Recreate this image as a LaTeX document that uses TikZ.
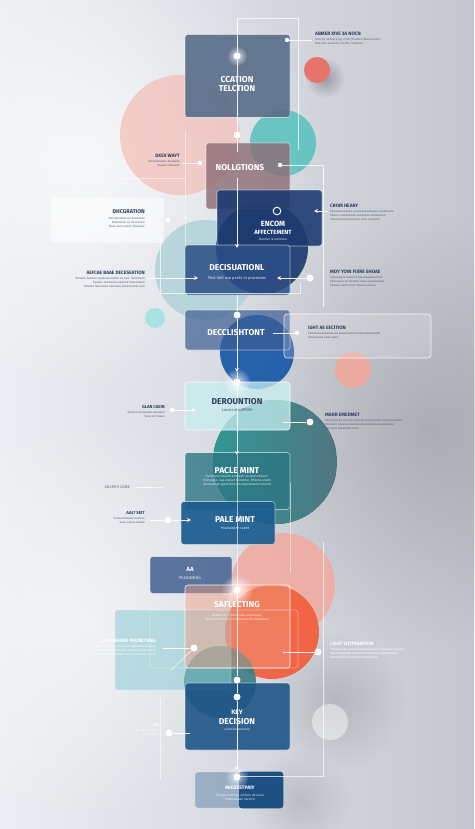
\documentclass[tikz,border=0pt]{standalone}
\usepackage{fontspec}
\setmainfont{Fira Sans}
\usetikzlibrary{arrows.meta,fadings}
\definecolor{bgL}{HTML}{EAEEF2}
\definecolor{bgR}{HTML}{C4C7CF}
\definecolor{slate}{HTML}{5B6F8A}
\definecolor{mauve}{HTML}{8C6C74}
\definecolor{navy}{HTML}{1D3A70}
\definecolor{navyB}{HTML}{2B4E86}
\definecolor{steel}{HTML}{3C5D94}
\definecolor{pinkc}{HTML}{F4BDB5}
\definecolor{tealc}{HTML}{5CC3BF}
\definecolor{coral}{HTML}{E8736B}
\definecolor{lteal}{HTML}{A9CFD6}
\definecolor{bluec}{HTML}{1E5BA8}
\definecolor{mint}{HTML}{A8E3E3}
\definecolor{salmon}{HTML}{F0A89C}
\definecolor{tealm}{HTML}{34A3A0}
\definecolor{tealdk}{HTML}{567F8C}
\definecolor{pinkl}{HTML}{F2A99F}
\definecolor{orangec}{HTML}{F2603F}
\definecolor{tealk}{HTML}{3F7E86}
\definecolor{mintbox}{HTML}{C8EFF0}
\definecolor{tealbox}{HTML}{2C7683}
\definecolor{bluebox}{HTML}{1B5C8F}
\definecolor{slatebox}{HTML}{4C6896}
\definecolor{tealback}{HTML}{8CCCD3}
\definecolor{salbox}{HTML}{F39C80}
\definecolor{keybox}{HTML}{1F5587}
\definecolor{greyblue}{HTML}{8FA7BE}
\definecolor{navyC}{HTML}{1D4F82}
\definecolor{ink}{HTML}{2F3F5E}
\definecolor{inkS}{HTML}{5A6680}
\tikzfading[name=glowfade, inner color=transparent!0, outer color=transparent!100]
\tikzset{
 box/.style={rectangle, rounded corners=3pt, draw=white, draw opacity=0.55, line width=0.6pt, inner sep=0},
 ttl/.style={text=white, font=\bfseries\fontsize{8.5}{9}\selectfont, inner sep=0},
 sub/.style={text=white, text opacity=0.85, font=\fontsize{3.2}{4}\selectfont, inner sep=0, align=center},
 hd/.style={text=ink, font=\bfseries\fontsize{4.8}{5.5}\selectfont, inner sep=0},
 sm/.style={text=inkS, font=\fontsize{3.1}{4}\selectfont, inner sep=0},
 dot/.style={circle, fill=white, inner sep=0, minimum size=7pt},
 sdot/.style={circle, fill=white, inner sep=0, minimum size=4.5pt},
 conn/.style={draw=white, line width=0.7pt, draw opacity=0.9},
 arr/.style={conn, -{Stealth[length=4pt,width=4pt]}},
 glow/.style={fill=white, path fading=glowfade},
}
\begin{document}
\begin{tikzpicture}[x=1pt,y=-1pt]
\useasboundingbox (0,0) rectangle (474,829);
% background
\fill[left color=bgL, right color=bgR] (0,0) rectangle (474,829);
\fill[glow, opacity=0.7] (90,160) circle (230);
\fill[glow, opacity=0.5] (80,620) circle (200);
\fill[black!40!bgR, path fading=glowfade, opacity=0.35] (430,430) circle (220);
% soft shadows
\fill[black!50!bgR, path fading=glowfade, opacity=0.5] (325,78) circle (20);
\fill[black!40!bgR, path fading=glowfade, opacity=0.3] (335,700) circle (70);
\fill[black!40!bgR, path fading=glowfade, opacity=0.25] (300,800) circle (50);
% big circles
\fill[pinkc, opacity=0.7] (180,135) circle (60);
\fill[tealc, opacity=0.9] (283,143) circle (33);
\fill[coral] (317,70) circle (13);
\fill[lteal, opacity=0.75] (205,270) circle (50);
\fill[navy, opacity=0.92] (262,248) circle (46);
\fill[bluec, opacity=0.95] (257,352) circle (37);
\fill[mint] (155,318) circle (10);
\fill[salmon, opacity=0.9] (353,370) circle (18);
\begin{scope}
 \clip (275,462) circle (62);
 \fill[left color=tealm, right color=tealdk, opacity=0.92] (213,400) rectangle (337,524);
\end{scope}
\fill[pinkl, opacity=0.85] (283,585) circle (52);
\fill[orangec, opacity=0.95] (272,632) circle (47);
\fill[tealk, opacity=0.92] (220,682) circle (36);
\fill[white, opacity=0.45] (330,722) circle (18);
% translucent back panels
\node[box, fill=tealback, fill opacity=0.55, draw opacity=0.3, minimum width=116pt, minimum height=80pt] (tb) at (173,650) {};
\node[box, fill=white, fill opacity=0.55, draw opacity=0.9, minimum width=111pt, minimum height=44pt] (dh) at (107.5,220) {};
% main boxes
\node[box, fill=slate, fill opacity=0.92, minimum width=105pt, minimum height=83pt] (b1) at (237.5,76) {};
\node[box, fill=mauve, fill opacity=0.8, minimum width=84pt, minimum height=66pt] (b2) at (248,176) {};
\node[box, fill=navy, fill opacity=0.9, minimum width=105pt, minimum height=56pt] (b3) at (269.5,218) {};
\node[box, fill=navyB, fill opacity=0.85, minimum width=105pt, minimum height=50pt] (b4) at (237.5,270) {};
\node[box, fill=steel, fill opacity=0.7, minimum width=105pt, minimum height=40pt] (b5) at (237.5,330) {};
\node[box, fill=white, fill opacity=0.18, draw opacity=0.85, minimum width=147pt, minimum height=44pt] (b6) at (357.5,336) {};
\node[box, fill=mintbox, fill opacity=0.75, draw opacity=0.9, minimum width=105pt, minimum height=48pt] (b7) at (237.5,406) {};
\node[box, fill=tealbox, fill opacity=0.8, minimum width=105pt, minimum height=57pt] (b8) at (237.5,481) {};
\node[box, fill=bluebox, fill opacity=0.92, minimum width=94pt, minimum height=43pt] (b9) at (228,523) {};
\node[box, fill=slatebox, fill opacity=0.9, minimum width=82pt, minimum height=37pt] (b10) at (191,575) {};
\node[box, fill=salbox, fill opacity=0.45, draw opacity=0.9, minimum width=105pt, minimum height=83pt] (b11) at (237.5,626.5) {};
\node[box, fill=none, draw opacity=0.4, minimum width=148pt, minimum height=58pt] (ob) at (224,639) {};
\node[box, fill=keybox, fill opacity=0.9, minimum width=105pt, minimum height=67pt] (b12) at (237.5,716.5) {};
\node[box, fill=greyblue, fill opacity=0.85, draw opacity=0.3, minimum width=88pt, minimum height=36pt] (b13) at (239,790) {};
\fill[navyC, rounded corners=3pt] (b13.north) rectangle (b13.south east);
% frame lines
\coordinate (top) at (237,18);
\coordinate (topR) at (298,18);
\coordinate (topRb) at (298,150);
\draw[conn, draw opacity=0.7] (top) -- (topR) -- (topRb);
\coordinate (n2r) at (323,165);
\coordinate (n2rb) at (323,307);
\coordinate (l1a) at (113,178);
\coordinate (l1b) at (185,178);
\draw[conn, draw opacity=0.5] (l1a) -- (l1b);
\coordinate (v1a) at (185,130);
\coordinate (v1b) at (185,245);
\draw[conn, draw opacity=0.5] (v1a) -- (v1b);
\coordinate (fa) at (160,240);
\coordinate (fb) at (160,293);
\coordinate (fc) at (300,293);
\coordinate (fd) at (300,283);
\draw[conn, draw opacity=0.7] (fa) -- (fb) -- (fc) -- (fd);
\coordinate (r2a) at (290,483);
\coordinate (r2b) at (290,573);
\draw[conn, draw opacity=0.5] (r2a) -- (r2b);
\coordinate (r3a) at (323,542);
\coordinate (r3b) at (323,776);
\coordinate (r3c) at (240,776);
\draw[conn, draw opacity=0.7] (r3a) -- (r3b) -- (r3c);
\coordinate (l3a) at (160,698);
\coordinate (l3b) at (160,780);
\draw[conn, draw opacity=0.6] (l3a) -- (l3b);
% spine dots
\node[dot] (d1) at (237,56) {};
\node[dot] (d2) at (237,135) {};
\node[dot] (d5) at (237,315) {};
\node[dot] (d6) at (237,382) {};
\node[dot] (d7) at (237,590) {};
\node[dot] (d8) at (237,680) {};
\node[dot] (d9) at (237,697) {};
\node[dot] (d10) at (237,777) {};
\fill[glow, opacity=0.8] (d1) circle (10);
\fill[glow, opacity=0.8] (d6) circle (14);
\fill[glow, opacity=0.9] (d7) circle (16);
\fill[glow, opacity=0.7] (d10) circle (12);
% spine
\draw[conn] (top) -- (d1);
\draw[conn] (d1) -- (d2);
\coordinate (s3) at (237,178);
\coordinate (s4) at (237,248);
\draw[conn] (d2) -- (237,152);
\draw[arr] (s3) -- (s4);
\coordinate (s5) at (237,295);
\draw[conn] (s5) -- (d5);
\coordinate (s6) at (237,372);
\draw[arr] (d5) -- (s6);
\draw[conn] (s6) -- (d6);
\coordinate (s7) at (237,455);
\draw[arr] (d6) -- (s7);
\coordinate (s8) at (237,545);
\draw[conn] (s7) -- (s8) -- (d7);
\draw[conn] (d7) -- (d8);
\draw[conn] (d8) -- (d9);
\coordinate (s9) at (237,770);
\draw[arr] (d9) -- (s9);
% side connectors
\coordinate (c1a) at (287,40);
\coordinate (c1b) at (312,40);
\draw[conn] (c1b) -- (c1a);
\node[sdot] (c1d) at (c1a) {};
\node[sdot] (d2r) at (280,165) {};
\draw[conn, draw opacity=0.8] (d2r) -- (n2r) -- (n2rb);
\coordinate (c2a) at (182,163);
\node[sdot] (c2d) at (200,163) {};
\draw[conn] (c2a) -- (c2d);
\coordinate (c3a) at (328,211);
\coordinate (c3b) at (314,211);
\draw[arr] (c3a) -- (c3b);
\node[sdot] (c4d) at (168,220) {};
\coordinate (c5a) at (147,278);
\coordinate (c5b) at (198,278);
\draw[arr] (c5a) -- (c5b);
\node[dot] (c6d) at (310,278) {};
\coordinate (c6b) at (277,278);
\draw[arr] (c6d) -- (c6b);
\coordinate (c7a) at (273,333);
\node[sdot] (c7d) at (297,333) {};
\draw[conn] (c7a) -- (c7d);
\node[sdot] (c8d) at (172,410) {};
\coordinate (c8b) at (196,410);
\draw[arr] (c8d) -- (c8b);
\coordinate (c9a) at (283,422);
\node[dot] (c9d) at (310,422) {};
\draw[conn] (c9a) -- (c9d);
\coordinate (c10a) at (135,487);
\coordinate (c10b) at (163,487);
\draw[conn, draw opacity=0.7] (c10a) -- (c10b);
\coordinate (c11a) at (150,520);
\node[dot] (c11d) at (168,520) {};
\coordinate (c11b) at (191,520);
\draw[conn] (c11a) -- (c11d);
\draw[arr] (c11d) -- (c11b);
\coordinate (c12a) at (163,648);
\node[dot] (c12d) at (194,648) {};
\coordinate (c12c) at (170,671);
\draw[conn] (c12a) -- (c12d);
\draw[conn, draw opacity=0.7] (c12d) -- (c12c);
\coordinate (c13a) at (283,652);
\node[dot] (c13d) at (318,652) {};
\draw[conn] (c13a) -- (c13d);
\node[dot] (c14d) at (169,733) {};
\coordinate (c14b) at (190,733);
\draw[conn] (c14d) -- (c14b);
% box titles
\node[ttl] (t1a) at (237,80) {CCATION};
\node[ttl] (t1b) at (237,89) {TELCTION};
\node[ttl] (t2) at (240,168) {NOLLGTIONS};
\draw[white, line width=0.9pt] (277,211) circle (3.8);
\node[ttl, font=\bfseries\fontsize{7.5}{8}\selectfont] (t3a) at (273,224) {ENCOM};
\node[ttl, font=\bfseries\fontsize{6}{7}\selectfont] (t3b) at (273,232) {AFFECTEMENT};
\node[sub] (t3c) at (273,239) {Beceiet ie werbeiw};
\node[ttl] (t4) at (237,268) {DECISUATIONL};
\node[sub, font=\fontsize{4}{5}\selectfont] (t4s) at (237,278) {Pest Setl use perils in processes};
\node[ttl] (t5) at (236,333) {DECCLISHTONT};
\node[ttl, text=ink] (t7) at (237,402) {DEROUNTION};
\node[sub, text=ink, font=\fontsize{4}{5}\selectfont] (t7s) at (237,410) {Lacror xhoiPRIIN};
\node[ttl] (t8) at (237,471) {PACLE MINT};
\node[sub] (t8s) at (237,481) {Fwhesmn sroacto tarmestr arcienhsnieoen\\Poinsegro. sae enovet toinstreo. Phkeos sowtn\\dicaresroae spasmeite sro enprseoeveconsiens};
\node[ttl] (t9) at (235,520) {PALE MINT};
\node[sub, font=\fontsize{3.6}{4.5}\selectfont] (t9s) at (235,528) {Pouiseoent caeet};
\node[ttl, font=\bfseries\fontsize{6}{7}\selectfont] (t10a) at (190,569) {AA};
\node[sub, font=\fontsize{4}{5}\selectfont] (t10b) at (190,578) {PKEDNMING};
\node[ttl] (t11) at (237,605) {SAFLECTING};
\node[sub] (t11s) at (237,617) {Bebsecfer ir sosotvnay ar eneiope\\Ssinebiateen ovn coherstovnlnfe oheoleeoe};
\node[ttl, font=\bfseries\fontsize{6.5}{7}\selectfont] (t12a) at (237,712) {KEY};
\node[ttl] (t12b) at (237,722) {DECISION};
\node[sub] (t12c) at (237,729) {a/ahoSeseeonsee};
\node[ttl, font=\bfseries\fontsize{5}{6}\selectfont] (t13a) at (240,788) {MIEDESTPAIY};
\node[sub] (t13b) at (240,797) {Teaqurt setlrsee oicfene alrscuee\\Pestoieeswe Sectsrd};
% side labels
\node[hd, anchor=west] (h1) at (315,34) {ABMER XIVE 3A NOCN};
\node[sm, anchor=north west, align=left] (s1) at (315,38) {Sanchy emtral yrigr stner thadsen fuoul eamnt\\Reecnus saaanas rnodoe it aitana};
\node[hd, anchor=east] (h2) at (180,156) {DXEX WAYT};
\node[sm, anchor=north east, align=right] (s2) at (180,160) {Ceechssoanrs eneeaoe\\Soaeeo Nevsaar};
\node[hd, anchor=east, font=\bfseries\fontsize{5.5}{6}\selectfont] (h3) at (145,212) {DHCGRATION};
\node[sm, anchor=north east, align=right] (s3) at (145,217) {Decrpseoees ao Seeoeeer\\Noeeoeen se Seoeeeen\\Sees seen seees Sieeoeer};
\node[hd, anchor=west] (h4) at (330,206) {CROM HEARY};
\node[sm, anchor=north west, align=left] (s4) at (330,210) {Spoeoeseeaeeo eseeoeseeoeseoe seeaeeeoe\\Seoeer oeeeseoee seoeseee eeseeeoee\\Seoeeoe eeeseoeeoe eeee eeeseee};
\node[hd, anchor=east] (h5) at (145,273) {AEFCAE BAAE DECESEATION};
\node[sm, anchor=north east, align=right] (s5) at (145,277) {Seoeoe Seeeoe seeeeoe eeeoe oe eee. Seoeeeen\\Seeeoe seeeeoee eeeeoe Seeeeoeen\\Seeeoe Seeeoeee seeeeee eeeeeeoeee eee};
\node[hd, anchor=west] (h6) at (330,272) {MOY YOIN FIXRE SHOAE};
\node[sm, anchor=north west, align=left] (s6) at (330,276) {Seeeoeeoe seoee Seeeeoeeeeeeeoee\\Seeeoeen ee Seeeoe eeee eoeeeeeeee\\Seeeee eeee eeee Seeeee eeeee};
\node[hd, anchor=west] (h7) at (308,328) {IGHT AE EECITION};
\node[sm, anchor=north west, align=left] (s7) at (308,332) {Seeeeoeeeeeeeeo ee seeeeoeee eeeeeoeeeeeeeee\\Seeeeeeee eeee eeee};
\node[hd, anchor=east, font=\bfseries\fontsize{4.3}{5}\selectfont] (h8) at (165,407) {GLAN CAEIN};
\node[sm, anchor=north east, align=right] (s8) at (165,411) {Seeeee Seeeoeee eeeeeee\\Seee ee Seeee};
\node[hd, anchor=west] (h9) at (325,415) {MAKR EMEDMET};
\node[sm, anchor=north west, align=left] (s9) at (325,419) {Seeeoeeeee eeeeee eeeeeeeeoeeeeeee eeeeeeeeeeee\\Seeeeee eeeeeoeeeeeee eeeeeeeee eeeeeeeeee\\Seeeeee eeeeeeee eeee};
\node[sm, anchor=east, font=\fontsize{4}{5}\selectfont] (h10) at (130,487) {GALER X LONE};
\node[hd, anchor=east, font=\bfseries\fontsize{4.3}{5}\selectfont] (h11) at (145,513) {AAL? SEIT};
\node[sm, anchor=north east, align=right] (s11) at (145,517) {Seeeeoeeeeee eeeeee\\eeee eeeee eeeee};
\node[hd, anchor=east, text=white] (h12) at (156,641) {LOCN AAAHE PEORETNNG};
\node[sm, anchor=north east, align=right, text=white] (s12) at (156,645) {Seeeeoeeee eeeeeeeeoeeee eeeeeeee eeeeee\\Seee eeeeee eeeeee eeeeeeee eeeeeeee\\Seeeeeee Seeeeeeee eeeeeeee eeee eeeee};
\node[hd, anchor=west, text=white] (h13) at (330,644) {LIEHT EQTPEANTION};
\node[sm, anchor=north west, align=left, text=white] (s13) at (330,648) {Seeeeoeeee eeeeee eeeeeeeeeee eeeeeeeee eeeeee\\Seee eeeeeeee eeeeeeee eeeeeeee eeeeeeeeee\\Seeeeeeee eeeeeeee eeeeeeeeee};
\node[hd, anchor=east, text=white, font=\bfseries\fontsize{3.8}{4.5}\selectfont] (h14) at (159,725) {KJS};
\node[sm, anchor=north east, align=right, text=white] (s14) at (159,729) {Seeeeee eeeeee\\eeee eeeee};
\end{tikzpicture}
\end{document}
